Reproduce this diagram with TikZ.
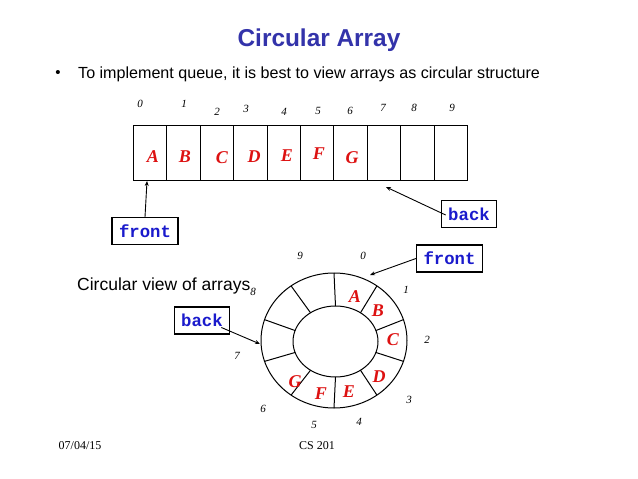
\documentclass[tikz,border=0pt]{standalone}
\usepackage{fontspec}
\setmainfont{Liberation Serif}
\setsansfont{Liberation Sans}
\setmonofont{Liberation Mono}
\usetikzlibrary{arrows.meta}
\definecolor{titleblue}{HTML}{3333AA}
\definecolor{ptrblue}{HTML}{1A1ACC}
\definecolor{letred}{HTML}{DD1111}
\begin{document}
\begin{tikzpicture}[x=1pt,y=-1pt,
  idx/.style={font=\fontsize{11}{11}\selectfont\itshape, inner sep=0pt},
  let/.style={font=\fontsize{18}{18}\selectfont\bfseries\itshape, text=letred, inner sep=0pt},
  ptr/.style={draw, line width=1.2pt, font=\fontsize{17.3}{17.3}\selectfont\ttfamily\bfseries, text=ptrblue, inner sep=0pt, inner xsep=7pt, minimum height=27pt},
  arr/.style={line width=0.9pt, -{Stealth[length=5pt,width=4pt]}},
  cell/.style={draw, line width=1pt, minimum width=33.4pt, minimum height=55pt, inner sep=0pt, anchor=north west},
  foot/.style={font=\fontsize{12}{12}\selectfont, inner sep=0pt}]
\useasboundingbox[fill=white] (0,0) rectangle (638,479);
% title
\node[font=\sffamily\bfseries\fontsize{24.4}{24.4}\selectfont, text=titleblue, inner sep=0pt, anchor=base] (title) at (319,46) {Circular Array};
\node[font=\sffamily\fontsize{15}{15}\selectfont, inner sep=0pt, anchor=base] (bul) at (58,77) {•};
\node[font=\sffamily\fontsize{16.1}{16.1}\selectfont, inner sep=0pt, anchor=base west] (line1) at (78,78) {To implement queue, it is best to view arrays as circular structure};
% array
\foreach \i in {0,...,9} {
  \node[cell] (c\i) at ({133+33.4*\i},125) {};
}
\foreach \i/\x/\y in {0/140/104,1/184/104,2/217/112,3/246/109,4/284/112,5/318/111,6/350/111,7/383/108,8/414/108,9/452/108} {
  \node[idx] (i\i) at (\x,\y) {\i};
}
\foreach \l/\x/\y in {A/153/157,B/185/157,C/222/158,D/254/157,E/287/156,F/319/154,G/352/158} {
  \node[let] (l\l) at (\x,\y) {\l};
}
% pointers
\node[ptr] (front1) at (145,231) {front};
\node[ptr] (back1) at (469,214) {back};
\coordinate (f1t) at (147,181);
\coordinate (b1t) at (386,187);
\draw[arr] (front1.north) -- (f1t);
\draw[arr] ([xshift=5pt,yshift=-1pt]back1.west) -- (b1t);
% circular view
\node[font=\sffamily\fontsize{17.5}{17.5}\selectfont, inner sep=0pt, anchor=base west] (cv) at (77,290) {Circular view of arrays};
\draw[line width=1pt] (334,340.5) ellipse [x radius=73, y radius=67.5];
\draw[line width=1pt] (335.5,341.5) ellipse [x radius=42.5, y radius=35.5];
\foreach \k in {0,...,9} {
  \pgfmathsetmacro{\t}{90-36*\k}
  \draw[line width=1pt] ({335.5+42.5*cos(\t)},{341.5-35.5*sin(\t)}) -- ({334+73*cos(\t)},{340.5-67.5*sin(\t)});
}
\foreach \i/\x/\y in {0/363/256,1/406/290,2/427/340,3/409/400,4/359/422,5/314/425,6/263/409,7/237/356,8/253/292,9/300/256} {
  \node[idx] (r\i) at (\x,\y) {\i};
}
\foreach \l/\x/\y in {A/355/297,B/378/311,C/393/340,D/379/377,E/349/392,F/321/394,G/295/382} {
  \node[let] (rl\l) at (\x,\y) {\l};
}
\node[ptr] (front2) at (449.5,258.5) {front};
\node[ptr] (back2) at (202,320.5) {back};
\coordinate (f2t) at (370,275);
\coordinate (b2t) at (260,344);
\draw[arr] (front2.west) -- (f2t);
\draw[arr] ([xshift=-9pt,yshift=-7pt]back2.east) -- (b2t);
% footer
\node[foot] (date) at (80,446) {07/04/15};
\node[foot] (cs) at (317,446) {CS 201};
\end{tikzpicture}
\end{document}
